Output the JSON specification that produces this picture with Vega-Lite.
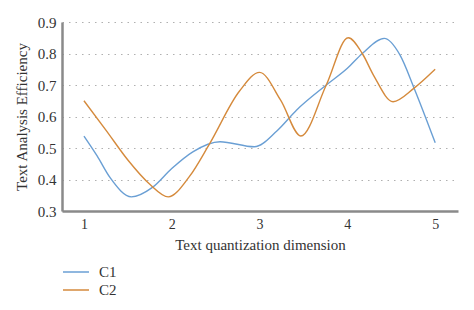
{
  "$schema": "https://vega.github.io/schema/vega-lite/v6.json",
  "autosize": {"type": "none"},
  "width": 396,
  "height": 189,
  "padding": {"left": 62, "top": 22, "right": 16, "bottom": 99},
  "background": "white",
  "config": {
    "font": "Liberation Serif",
    "view": {"stroke": null}
  },
  "data": {
    "values": [
      {"x": 1.00, "y": 0.538, "s": "C1"},
      {"x": 1.15, "y": 0.475, "s": "C1"},
      {"x": 1.30, "y": 0.405, "s": "C1"},
      {"x": 1.54, "y": 0.345, "s": "C1"},
      {"x": 1.78, "y": 0.375, "s": "C1"},
      {"x": 2.00, "y": 0.435, "s": "C1"},
      {"x": 2.24, "y": 0.488, "s": "C1"},
      {"x": 2.55, "y": 0.520, "s": "C1"},
      {"x": 2.94, "y": 0.504, "s": "C1"},
      {"x": 3.20, "y": 0.555, "s": "C1"},
      {"x": 3.42, "y": 0.620, "s": "C1"},
      {"x": 3.76, "y": 0.700, "s": "C1"},
      {"x": 4.00, "y": 0.753, "s": "C1"},
      {"x": 4.17, "y": 0.800, "s": "C1"},
      {"x": 4.42, "y": 0.848, "s": "C1"},
      {"x": 4.60, "y": 0.795, "s": "C1"},
      {"x": 4.76, "y": 0.690, "s": "C1"},
      {"x": 5.00, "y": 0.517, "s": "C1"},
      {"x": 1.00, "y": 0.650, "s": "C2"},
      {"x": 1.25, "y": 0.557, "s": "C2"},
      {"x": 1.50, "y": 0.462, "s": "C2"},
      {"x": 1.75, "y": 0.385, "s": "C2"},
      {"x": 1.96, "y": 0.345, "s": "C2"},
      {"x": 2.20, "y": 0.409, "s": "C2"},
      {"x": 2.43, "y": 0.513, "s": "C2"},
      {"x": 2.77, "y": 0.680, "s": "C2"},
      {"x": 3.00, "y": 0.740, "s": "C2"},
      {"x": 3.24, "y": 0.652, "s": "C2"},
      {"x": 3.47, "y": 0.538, "s": "C2"},
      {"x": 3.76, "y": 0.700, "s": "C2"},
      {"x": 4.01, "y": 0.850, "s": "C2"},
      {"x": 4.17, "y": 0.800, "s": "C2"},
      {"x": 4.30, "y": 0.730, "s": "C2"},
      {"x": 4.52, "y": 0.647, "s": "C2"},
      {"x": 4.76, "y": 0.690, "s": "C2"},
      {"x": 5.00, "y": 0.750, "s": "C2"}
    ]
  },
  "mark": {"type": "line", "interpolate": "monotone", "strokeWidth": 1.4},
  "encoding": {
    "x": {
      "field": "x", "type": "quantitative",
      "scale": {"domain": [0.75, 5.26], "nice": false, "zero": false},
      "axis": {
        "values": [1, 2, 3, 4, 5],
        "title": "Text quantization dimension",
        "titleFont": "Liberation Serif", "titleFontSize": 15, "titleFontWeight": "normal",
        "titleColor": "#333333", "titlePadding": 6,
        "labelFont": "Liberation Serif", "labelFontSize": 14, "labelColor": "#333333",
        "labelPadding": 6,
        "ticks": false, "grid": false,
        "domainColor": "#8a8a8a", "domainWidth": 2.5
      }
    },
    "y": {
      "field": "y", "type": "quantitative",
      "scale": {"domain": [0.3, 0.9], "nice": false, "zero": false},
      "axis": {
        "values": [0.3, 0.4, 0.5, 0.6, 0.7, 0.8, 0.9],
        "format": ".1f",
        "title": "Text Analysis Efficiency",
        "titleFont": "Liberation Serif", "titleFontSize": 15, "titleFontWeight": "normal",
        "titleColor": "#333333", "titlePadding": 8,
        "labelFont": "Liberation Serif", "labelFontSize": 15, "labelColor": "#333333",
        "labelPadding": 6,
        "ticks": false,
        "grid": true, "gridColor": "#b0b0b0", "gridDash": [1.5, 5], "gridWidth": 1.2,
        "domainColor": "#8a8a8a", "domainWidth": 2.5
      }
    },
    "color": {
      "field": "s", "type": "nominal",
      "scale": {"domain": ["C1", "C2"], "range": ["#6a9fd4", "#d58a3c"]},
      "legend": {
        "title": null,
        "orient": "none",
        "legendX": 0,
        "legendY": 241,
        "symbolType": "stroke",
        "symbolSize": 676,
        "symbolStrokeWidth": 1.5,
        "clipHeight": 18,
        "labelFont": "Liberation Serif",
        "labelFontSize": 15,
        "labelColor": "#333333",
        "labelOffset": 9,
        "rowPadding": 0
      }
    }
  }
}
